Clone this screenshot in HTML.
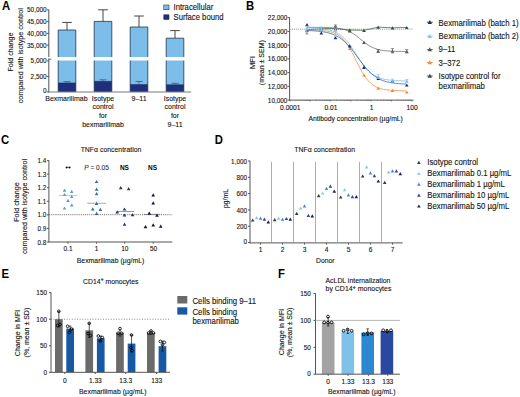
<!DOCTYPE html><html><head><meta charset="utf-8"><style>html,body{margin:0;padding:0;background:#fff;}svg{display:block;}</style></head><body>
<svg width="520" height="397" viewBox="0 0 520 397" font-family='"Liberation Sans", sans-serif'>
<rect width="520" height="397" fill="#fff"/>
<text transform="translate(2.0,10.0) scale(1,1.2)" font-size="11.3" text-anchor="start" font-weight="bold" fill="#000">A</text>
<text transform="translate(246.0,10.0) scale(1,1.2)" font-size="11.3" text-anchor="start" font-weight="bold" fill="#000">B</text>
<text transform="translate(1.0,143.9) scale(1,1.2)" font-size="11.3" text-anchor="start" font-weight="bold" fill="#000">C</text>
<text transform="translate(214.8,143.9) scale(1,1.2)" font-size="11.3" text-anchor="start" font-weight="bold" fill="#000">D</text>
<text transform="translate(1.6,278.2) scale(1,1.2)" font-size="11.3" text-anchor="start" font-weight="bold" fill="#000">E</text>
<text transform="translate(278.0,278.2) scale(1,1.2)" font-size="11.3" text-anchor="start" font-weight="bold" fill="#000">F</text>
<line x1="48.8" y1="9.8" x2="48.8" y2="57.0" stroke="#606060" stroke-width="1.1"/>
<line x1="48.8" y1="58.6" x2="48.8" y2="92.4" stroke="#606060" stroke-width="1.1"/>
<line x1="48.8" y1="59.2" x2="51.199999999999996" y2="59.2" stroke="#555" stroke-width="0.9"/>
<line x1="46.8" y1="9.8" x2="48.8" y2="9.8" stroke="#555" stroke-width="1.0"/>
<text transform="translate(46.6,12.4) scale(1,1.1)" font-size="6.4" text-anchor="end" fill="#111" stroke="#111" stroke-width="0.1">50,000</text>
<line x1="46.8" y1="21.6" x2="48.8" y2="21.6" stroke="#555" stroke-width="1.0"/>
<text transform="translate(46.6,24.200000000000003) scale(1,1.1)" font-size="6.4" text-anchor="end" fill="#111" stroke="#111" stroke-width="0.1">45,000</text>
<line x1="46.8" y1="33.400000000000006" x2="48.8" y2="33.400000000000006" stroke="#555" stroke-width="1.0"/>
<text transform="translate(46.6,36.00000000000001) scale(1,1.1)" font-size="6.4" text-anchor="end" fill="#111" stroke="#111" stroke-width="0.1">40,000</text>
<line x1="46.8" y1="45.2" x2="48.8" y2="45.2" stroke="#555" stroke-width="1.0"/>
<text transform="translate(46.6,47.800000000000004) scale(1,1.1)" font-size="6.4" text-anchor="end" fill="#111" stroke="#111" stroke-width="0.1">35,000</text>
<line x1="46.8" y1="60.900000000000006" x2="48.8" y2="60.900000000000006" stroke="#555" stroke-width="1.0"/>
<text transform="translate(46.6,63.00000000000001) scale(1,1.1)" font-size="6.4" text-anchor="end" fill="#111" stroke="#111" stroke-width="0.1">5,000</text>
<line x1="46.8" y1="76.4" x2="48.8" y2="76.4" stroke="#555" stroke-width="1.0"/>
<text transform="translate(46.6,78.5) scale(1,1.1)" font-size="6.4" text-anchor="end" fill="#111" stroke="#111" stroke-width="0.1">2,500</text>
<line x1="46.8" y1="91.9" x2="48.8" y2="91.9" stroke="#555" stroke-width="1.0"/>
<text transform="translate(46.6,93.2) scale(1,1.1)" font-size="6.4" text-anchor="end" fill="#111" stroke="#111" stroke-width="0.1">0</text>
<line x1="67" y1="22.4" x2="67" y2="30" stroke="#4d4343" stroke-width="1.0"/>
<line x1="62.2" y1="22.4" x2="71.8" y2="22.4" stroke="#4d4343" stroke-width="1.0"/>
<rect x="58.2" y="30" width="17.6" height="27.0" fill="#7cbde9"/>
<rect x="58.2" y="60.5" width="17.6" height="31.400000000000006" fill="#7cbde9"/>
<rect x="58.2" y="83.0" width="17.6" height="8.900000000000006" fill="#202f7c"/>
<path d="M58.2,57 V30 H75.80000000000001 V57 M58.2,60.5 V91.9 M75.80000000000001,60.5 V91.9" fill="none" stroke="#1f3450" stroke-width="0.8"/>
<line x1="58.2" y1="83.0" x2="75.80000000000001" y2="83.0" stroke="#1a2a5a" stroke-width="0.6"/>
<line x1="63.5" y1="81.6" x2="70.5" y2="81.6" stroke="#445" stroke-width="0.7"/>
<line x1="67" y1="81.6" x2="67" y2="83.0" stroke="#445" stroke-width="0.6"/>
<line x1="103" y1="9.8" x2="103" y2="21.4" stroke="#4d4343" stroke-width="1.0"/>
<line x1="98.2" y1="9.8" x2="107.8" y2="9.8" stroke="#4d4343" stroke-width="1.0"/>
<rect x="94.2" y="21.4" width="17.6" height="35.6" fill="#7cbde9"/>
<rect x="94.2" y="60.5" width="17.6" height="31.400000000000006" fill="#7cbde9"/>
<rect x="94.2" y="81.4" width="17.6" height="10.5" fill="#202f7c"/>
<path d="M94.2,57 V21.4 H111.80000000000001 V57 M94.2,60.5 V91.9 M111.80000000000001,60.5 V91.9" fill="none" stroke="#1f3450" stroke-width="0.8"/>
<line x1="94.2" y1="81.4" x2="111.80000000000001" y2="81.4" stroke="#1a2a5a" stroke-width="0.6"/>
<line x1="99.5" y1="79.8" x2="106.5" y2="79.8" stroke="#445" stroke-width="0.7"/>
<line x1="103" y1="79.8" x2="103" y2="81.4" stroke="#445" stroke-width="0.6"/>
<line x1="139" y1="16" x2="139" y2="27" stroke="#4d4343" stroke-width="1.0"/>
<line x1="134.2" y1="16" x2="143.8" y2="16" stroke="#4d4343" stroke-width="1.0"/>
<rect x="130.2" y="27" width="17.6" height="30.0" fill="#7cbde9"/>
<rect x="130.2" y="60.5" width="17.6" height="31.400000000000006" fill="#7cbde9"/>
<rect x="130.2" y="84.6" width="17.6" height="7.300000000000011" fill="#202f7c"/>
<path d="M130.2,57 V27 H147.79999999999998 V57 M130.2,60.5 V91.9 M147.79999999999998,60.5 V91.9" fill="none" stroke="#1f3450" stroke-width="0.8"/>
<line x1="130.2" y1="84.6" x2="147.79999999999998" y2="84.6" stroke="#1a2a5a" stroke-width="0.6"/>
<line x1="135.5" y1="81.5" x2="142.5" y2="81.5" stroke="#445" stroke-width="0.7"/>
<line x1="139" y1="81.5" x2="139" y2="84.6" stroke="#445" stroke-width="0.6"/>
<line x1="175" y1="30.6" x2="175" y2="38.2" stroke="#4d4343" stroke-width="1.0"/>
<line x1="170.2" y1="30.6" x2="179.8" y2="30.6" stroke="#4d4343" stroke-width="1.0"/>
<rect x="166.2" y="38.2" width="17.6" height="18.799999999999997" fill="#7cbde9"/>
<rect x="166.2" y="60.5" width="17.6" height="31.400000000000006" fill="#7cbde9"/>
<rect x="166.2" y="84.8" width="17.6" height="7.1000000000000085" fill="#202f7c"/>
<path d="M166.2,57 V38.2 H183.79999999999998 V57 M166.2,60.5 V91.9 M183.79999999999998,60.5 V91.9" fill="none" stroke="#1f3450" stroke-width="0.8"/>
<line x1="166.2" y1="84.8" x2="183.79999999999998" y2="84.8" stroke="#1a2a5a" stroke-width="0.6"/>
<line x1="171.5" y1="83.3" x2="178.5" y2="83.3" stroke="#445" stroke-width="0.7"/>
<line x1="175" y1="83.3" x2="175" y2="84.8" stroke="#445" stroke-width="0.6"/>
<line x1="48.8" y1="92.0" x2="191.2" y2="92.0" stroke="#7a7a7a" stroke-width="1.2"/>
<text transform="translate(66.4,100.8) scale(1,1.1)" font-size="7.0" text-anchor="middle" fill="#111" stroke="#111" stroke-width="0.1">Bexmarilimab</text>
<text transform="translate(103,100.8) scale(1,1.1)" font-size="7.0" text-anchor="middle" fill="#111" stroke="#111" stroke-width="0.1">Isotype</text>
<text transform="translate(103,109.39999999999999) scale(1,1.1)" font-size="7.0" text-anchor="middle" fill="#111" stroke="#111" stroke-width="0.1">control</text>
<text transform="translate(103,118.0) scale(1,1.1)" font-size="7.0" text-anchor="middle" fill="#111" stroke="#111" stroke-width="0.1">for</text>
<text transform="translate(103,126.6) scale(1,1.1)" font-size="7.0" text-anchor="middle" fill="#111" stroke="#111" stroke-width="0.1">bexmarilimab</text>
<text transform="translate(139,100.8) scale(1,1.1)" font-size="7.0" text-anchor="middle" fill="#111" stroke="#111" stroke-width="0.1">9–11</text>
<text transform="translate(175,100.8) scale(1,1.1)" font-size="7.0" text-anchor="middle" fill="#111" stroke="#111" stroke-width="0.1">Isotype</text>
<text transform="translate(175,109.39999999999999) scale(1,1.1)" font-size="7.0" text-anchor="middle" fill="#111" stroke="#111" stroke-width="0.1">control</text>
<text transform="translate(175,118.0) scale(1,1.1)" font-size="7.0" text-anchor="middle" fill="#111" stroke="#111" stroke-width="0.1">for</text>
<text transform="translate(175,126.6) scale(1,1.1)" font-size="7.0" text-anchor="middle" fill="#111" stroke="#111" stroke-width="0.1">9–11</text>
<text transform="translate(13.0,52.0) scale(1,1.1) rotate(-90)" font-size="6.45" text-anchor="middle" fill="#111" stroke="#111" stroke-width="0.1">Fold change</text>
<text transform="translate(22.8,55.7) scale(1,1.1) rotate(-90)" font-size="6.55" text-anchor="middle" fill="#111" stroke="#111" stroke-width="0.1">compared with isotype control</text>
<rect x="163.8" y="5.0" width="5.2" height="4.7" fill="#7cbde9" stroke="#1f3450" stroke-width="0.6"/>
<rect x="163.8" y="14.8" width="5.2" height="4.7" fill="#202f7c" stroke="#1f3450" stroke-width="0.6"/>
<text transform="translate(173.5,9.9) scale(1,1.1)" font-size="7.7" text-anchor="start" fill="#111" stroke="#111" stroke-width="0.1">Intracellular</text>
<text transform="translate(173.5,20.0) scale(1,1.1)" font-size="7.7" text-anchor="start" fill="#111" stroke="#111" stroke-width="0.1">Surface bound</text>
<line x1="289.6" y1="17.3" x2="289.6" y2="100.6" stroke="#555" stroke-width="1.0"/>
<line x1="287.6" y1="100.1" x2="289.6" y2="100.1" stroke="#555" stroke-width="1.0"/>
<text transform="translate(287.4,102.69999999999999) scale(1,1.1)" font-size="6.4" text-anchor="end" fill="#111" stroke="#111" stroke-width="0.1">10,000</text>
<line x1="287.6" y1="86.36" x2="289.6" y2="86.36" stroke="#555" stroke-width="1.0"/>
<text transform="translate(287.4,88.96) scale(1,1.1)" font-size="6.4" text-anchor="end" fill="#111" stroke="#111" stroke-width="0.1">12,000</text>
<line x1="287.6" y1="72.61999999999999" x2="289.6" y2="72.61999999999999" stroke="#555" stroke-width="1.0"/>
<text transform="translate(287.4,75.21999999999998) scale(1,1.1)" font-size="6.4" text-anchor="end" fill="#111" stroke="#111" stroke-width="0.1">14,000</text>
<line x1="287.6" y1="58.879999999999995" x2="289.6" y2="58.879999999999995" stroke="#555" stroke-width="1.0"/>
<text transform="translate(287.4,61.48) scale(1,1.1)" font-size="6.4" text-anchor="end" fill="#111" stroke="#111" stroke-width="0.1">16,000</text>
<line x1="287.6" y1="45.13999999999999" x2="289.6" y2="45.13999999999999" stroke="#555" stroke-width="1.0"/>
<text transform="translate(287.4,47.739999999999995) scale(1,1.1)" font-size="6.4" text-anchor="end" fill="#111" stroke="#111" stroke-width="0.1">18,000</text>
<line x1="287.6" y1="31.39999999999999" x2="289.6" y2="31.39999999999999" stroke="#555" stroke-width="1.0"/>
<text transform="translate(287.4,33.99999999999999) scale(1,1.1)" font-size="6.4" text-anchor="end" fill="#111" stroke="#111" stroke-width="0.1">20,000</text>
<line x1="287.6" y1="17.659999999999997" x2="289.6" y2="17.659999999999997" stroke="#555" stroke-width="1.0"/>
<text transform="translate(287.4,20.259999999999998) scale(1,1.1)" font-size="6.4" text-anchor="end" fill="#111" stroke="#111" stroke-width="0.1">22,000</text>
<line x1="289.6" y1="100.1" x2="413.5" y2="100.1" stroke="#555" stroke-width="1.0"/>
<line x1="290.0" y1="100.1" x2="290.0" y2="101.69999999999999" stroke="#555" stroke-width="0.5"/>
<line x1="296.1109089119788" y1="100.1" x2="296.1109089119788" y2="101.0" stroke="#555" stroke-width="0.5"/>
<line x1="299.68556147080915" y1="100.1" x2="299.68556147080915" y2="101.0" stroke="#555" stroke-width="0.5"/>
<line x1="302.2218178239576" y1="100.1" x2="302.2218178239576" y2="101.0" stroke="#555" stroke-width="0.5"/>
<line x1="304.1890910880212" y1="100.1" x2="304.1890910880212" y2="101.0" stroke="#555" stroke-width="0.5"/>
<line x1="305.79647038278796" y1="100.1" x2="305.79647038278796" y2="101.0" stroke="#555" stroke-width="0.5"/>
<line x1="307.1554902122894" y1="100.1" x2="307.1554902122894" y2="101.0" stroke="#555" stroke-width="0.5"/>
<line x1="308.33272673593643" y1="100.1" x2="308.33272673593643" y2="101.0" stroke="#555" stroke-width="0.5"/>
<line x1="309.3711229416183" y1="100.1" x2="309.3711229416183" y2="101.0" stroke="#555" stroke-width="0.5"/>
<line x1="310.3" y1="100.1" x2="310.3" y2="101.69999999999999" stroke="#555" stroke-width="0.5"/>
<line x1="316.4109089119788" y1="100.1" x2="316.4109089119788" y2="101.0" stroke="#555" stroke-width="0.5"/>
<line x1="319.98556147080916" y1="100.1" x2="319.98556147080916" y2="101.0" stroke="#555" stroke-width="0.5"/>
<line x1="322.52181782395763" y1="100.1" x2="322.52181782395763" y2="101.0" stroke="#555" stroke-width="0.5"/>
<line x1="324.48909108802115" y1="100.1" x2="324.48909108802115" y2="101.0" stroke="#555" stroke-width="0.5"/>
<line x1="326.09647038278797" y1="100.1" x2="326.09647038278797" y2="101.0" stroke="#555" stroke-width="0.5"/>
<line x1="327.4554902122894" y1="100.1" x2="327.4554902122894" y2="101.0" stroke="#555" stroke-width="0.5"/>
<line x1="328.63272673593644" y1="100.1" x2="328.63272673593644" y2="101.0" stroke="#555" stroke-width="0.5"/>
<line x1="329.6711229416183" y1="100.1" x2="329.6711229416183" y2="101.0" stroke="#555" stroke-width="0.5"/>
<line x1="330.6" y1="100.1" x2="330.6" y2="101.69999999999999" stroke="#555" stroke-width="0.5"/>
<line x1="336.71090891197883" y1="100.1" x2="336.71090891197883" y2="101.0" stroke="#555" stroke-width="0.5"/>
<line x1="340.28556147080917" y1="100.1" x2="340.28556147080917" y2="101.0" stroke="#555" stroke-width="0.5"/>
<line x1="342.82181782395764" y1="100.1" x2="342.82181782395764" y2="101.0" stroke="#555" stroke-width="0.5"/>
<line x1="344.78909108802117" y1="100.1" x2="344.78909108802117" y2="101.0" stroke="#555" stroke-width="0.5"/>
<line x1="346.396470382788" y1="100.1" x2="346.396470382788" y2="101.0" stroke="#555" stroke-width="0.5"/>
<line x1="347.75549021228943" y1="100.1" x2="347.75549021228943" y2="101.0" stroke="#555" stroke-width="0.5"/>
<line x1="348.93272673593646" y1="100.1" x2="348.93272673593646" y2="101.0" stroke="#555" stroke-width="0.5"/>
<line x1="349.9711229416183" y1="100.1" x2="349.9711229416183" y2="101.0" stroke="#555" stroke-width="0.5"/>
<line x1="350.9" y1="100.1" x2="350.9" y2="101.69999999999999" stroke="#555" stroke-width="0.5"/>
<line x1="357.01090891197885" y1="100.1" x2="357.01090891197885" y2="101.0" stroke="#555" stroke-width="0.5"/>
<line x1="360.5855614708091" y1="100.1" x2="360.5855614708091" y2="101.0" stroke="#555" stroke-width="0.5"/>
<line x1="363.12181782395766" y1="100.1" x2="363.12181782395766" y2="101.0" stroke="#555" stroke-width="0.5"/>
<line x1="365.0890910880212" y1="100.1" x2="365.0890910880212" y2="101.0" stroke="#555" stroke-width="0.5"/>
<line x1="366.696470382788" y1="100.1" x2="366.696470382788" y2="101.0" stroke="#555" stroke-width="0.5"/>
<line x1="368.05549021228944" y1="100.1" x2="368.05549021228944" y2="101.0" stroke="#555" stroke-width="0.5"/>
<line x1="369.23272673593647" y1="100.1" x2="369.23272673593647" y2="101.0" stroke="#555" stroke-width="0.5"/>
<line x1="370.2711229416183" y1="100.1" x2="370.2711229416183" y2="101.0" stroke="#555" stroke-width="0.5"/>
<line x1="371.2" y1="100.1" x2="371.2" y2="101.69999999999999" stroke="#555" stroke-width="0.5"/>
<line x1="377.3109089119788" y1="100.1" x2="377.3109089119788" y2="101.0" stroke="#555" stroke-width="0.5"/>
<line x1="380.88556147080914" y1="100.1" x2="380.88556147080914" y2="101.0" stroke="#555" stroke-width="0.5"/>
<line x1="383.42181782395767" y1="100.1" x2="383.42181782395767" y2="101.0" stroke="#555" stroke-width="0.5"/>
<line x1="385.3890910880212" y1="100.1" x2="385.3890910880212" y2="101.0" stroke="#555" stroke-width="0.5"/>
<line x1="386.99647038278795" y1="100.1" x2="386.99647038278795" y2="101.0" stroke="#555" stroke-width="0.5"/>
<line x1="388.3554902122894" y1="100.1" x2="388.3554902122894" y2="101.0" stroke="#555" stroke-width="0.5"/>
<line x1="389.5327267359365" y1="100.1" x2="389.5327267359365" y2="101.0" stroke="#555" stroke-width="0.5"/>
<line x1="390.5711229416183" y1="100.1" x2="390.5711229416183" y2="101.0" stroke="#555" stroke-width="0.5"/>
<line x1="391.5" y1="100.1" x2="391.5" y2="101.69999999999999" stroke="#555" stroke-width="0.5"/>
<line x1="397.6109089119788" y1="100.1" x2="397.6109089119788" y2="101.0" stroke="#555" stroke-width="0.5"/>
<line x1="401.18556147080915" y1="100.1" x2="401.18556147080915" y2="101.0" stroke="#555" stroke-width="0.5"/>
<line x1="403.7218178239576" y1="100.1" x2="403.7218178239576" y2="101.0" stroke="#555" stroke-width="0.5"/>
<line x1="405.6890910880212" y1="100.1" x2="405.6890910880212" y2="101.0" stroke="#555" stroke-width="0.5"/>
<line x1="407.29647038278796" y1="100.1" x2="407.29647038278796" y2="101.0" stroke="#555" stroke-width="0.5"/>
<line x1="408.6554902122894" y1="100.1" x2="408.6554902122894" y2="101.0" stroke="#555" stroke-width="0.5"/>
<line x1="409.8327267359365" y1="100.1" x2="409.8327267359365" y2="101.0" stroke="#555" stroke-width="0.5"/>
<line x1="410.8711229416183" y1="100.1" x2="410.8711229416183" y2="101.0" stroke="#555" stroke-width="0.5"/>
<line x1="411.8" y1="100.1" x2="411.8" y2="101.69999999999999" stroke="#555" stroke-width="0.5"/>
<text transform="translate(290.3,109.5) scale(1,1.1)" font-size="6.7" text-anchor="middle" fill="#111" stroke="#111" stroke-width="0.1">0.0001</text>
<text transform="translate(330.90000000000003,109.5) scale(1,1.1)" font-size="6.7" text-anchor="middle" fill="#111" stroke="#111" stroke-width="0.1">0.01</text>
<text transform="translate(371.5,109.5) scale(1,1.1)" font-size="6.7" text-anchor="middle" fill="#111" stroke="#111" stroke-width="0.1">1</text>
<text transform="translate(412.1,109.5) scale(1,1.1)" font-size="6.7" text-anchor="middle" fill="#111" stroke="#111" stroke-width="0.1">100</text>
<text transform="translate(308.5,120.7) scale(1,1.1)" font-size="6.8" text-anchor="start" fill="#111" stroke="#111" stroke-width="0.1">Antibody concentration (µg/mL)</text>
<text transform="translate(255.2,62.6) scale(1,1.1) rotate(-90)" font-size="6.91" text-anchor="middle" fill="#111" stroke="#111" stroke-width="0.1">MFI</text>
<text transform="translate(264.0,62.7) scale(1,1.1) rotate(-90)" font-size="6.36" text-anchor="middle" fill="#111" stroke="#111" stroke-width="0.1">(mean ± SEM)</text>
<line x1="289.6" y1="29.2" x2="413.5" y2="29.2" stroke="#7a8a7a" stroke-width="0.8" stroke-dasharray="1.2,0.9"/>
<path d="M307,30 L321.3,28.5 L335.5,28.5 L349.7,30 L364,30.3 L378.2,27.2 L392.5,27.8 L406.8,27.5" fill="none" stroke="#3a6645" stroke-width="0.75"/>
<polygon points="305.20,31.62 308.80,31.62 307.00,28.38" fill="#2a4f34"/>
<polygon points="319.50,30.12 323.10,30.12 321.30,26.88" fill="#2a4f34"/>
<polygon points="333.70,30.12 337.30,30.12 335.50,26.88" fill="#2a4f34"/>
<polygon points="347.90,31.62 351.50,31.62 349.70,28.38" fill="#2a4f34"/>
<polygon points="362.20,31.92 365.80,31.92 364.00,28.68" fill="#2a4f34"/>
<polygon points="376.40,28.82 380.00,28.82 378.20,25.58" fill="#2a4f34"/>
<polygon points="390.70,29.42 394.30,29.42 392.50,26.18" fill="#2a4f34"/>
<polygon points="405.00,29.12 408.60,29.12 406.80,25.88" fill="#2a4f34"/>
<path d="M307.00,27.32 L308.50,27.32 L310.00,27.32 L311.50,27.33 L313.00,27.33 L314.50,27.34 L316.00,27.35 L317.50,27.36 L319.00,27.38 L320.50,27.40 L322.00,27.42 L323.50,27.45 L325.00,27.48 L326.50,27.52 L328.00,27.57 L329.50,27.63 L331.00,27.70 L332.50,27.79 L334.00,27.90 L335.50,28.03 L337.00,28.20 L338.50,28.39 L340.00,28.63 L341.50,28.91 L343.00,29.25 L344.50,29.65 L346.00,30.12 L347.50,30.67 L349.00,31.31 L350.50,32.05 L352.00,32.89 L353.50,33.82 L355.00,34.84 L356.50,35.95 L358.00,37.12 L359.50,38.34 L361.00,39.58 L362.50,40.82 L364.00,42.03 L365.50,43.19 L367.00,44.27 L368.50,45.27 L370.00,46.18 L371.50,46.98 L373.00,47.70 L374.50,48.31 L376.00,48.84 L377.50,49.30 L379.00,49.68 L380.50,50.00 L382.00,50.27 L383.50,50.50 L385.00,50.68 L386.50,50.83 L388.00,50.96 L389.50,51.06 L391.00,51.15 L392.50,51.22 L394.00,51.28 L395.50,51.32 L397.00,51.36 L398.50,51.39 L400.00,51.42 L401.50,51.44 L403.00,51.46 L404.50,51.47 L406.00,51.48" fill="none" stroke="#6b6b6b" stroke-width="0.75"/>
<polygon points="305.20,31.62 308.80,31.62 307.00,28.38" fill="#505050"/>
<polygon points="319.50,30.62 323.10,30.62 321.30,27.38" fill="#505050"/>
<polygon points="333.70,27.62 337.30,27.62 335.50,24.38" fill="#505050"/>
<polygon points="347.90,32.42 351.50,32.42 349.70,29.18" fill="#505050"/>
<polygon points="362.20,43.92 365.80,43.92 364.00,40.68" fill="#505050"/>
<polygon points="376.40,52.62 380.00,52.62 378.20,49.38" fill="#505050"/>
<polygon points="390.70,52.62 394.30,52.62 392.50,49.38" fill="#505050"/>
<polygon points="405.00,53.12 408.60,53.12 406.80,49.88" fill="#505050"/>
<path d="M307.00,29.86 L308.50,29.88 L310.00,29.90 L311.50,29.94 L313.00,29.97 L314.50,30.02 L316.00,30.08 L317.50,30.14 L319.00,30.23 L320.50,30.33 L322.00,30.45 L323.50,30.60 L325.00,30.78 L326.50,31.00 L328.00,31.26 L329.50,31.58 L331.00,31.97 L332.50,32.43 L334.00,32.98 L335.50,33.63 L337.00,34.42 L338.50,35.34 L340.00,36.42 L341.50,37.69 L343.00,39.15 L344.50,40.83 L346.00,42.73 L347.50,44.87 L349.00,47.22 L350.50,49.78 L352.00,52.53 L353.50,55.41 L355.00,58.39 L356.50,61.40 L358.00,64.39 L359.50,67.31 L361.00,70.10 L362.50,72.72 L364.00,75.14 L365.50,77.33 L367.00,79.30 L368.50,81.05 L370.00,82.57 L371.50,83.89 L373.00,85.03 L374.50,86.00 L376.00,86.82 L377.50,87.51 L379.00,88.09 L380.50,88.58 L382.00,88.98 L383.50,89.32 L385.00,89.60 L386.50,89.83 L388.00,90.02 L389.50,90.18 L391.00,90.31 L392.50,90.41 L394.00,90.50 L395.50,90.57 L397.00,90.63 L398.50,90.68 L400.00,90.72 L401.50,90.76 L403.00,90.78 L404.50,90.81 L406.00,90.83" fill="none" stroke="#f0893a" stroke-width="0.75"/>
<polygon points="305.20,34.62 308.80,34.62 307.00,31.38" fill="#f0893a"/>
<polygon points="319.50,31.62 323.10,31.62 321.30,28.38" fill="#f0893a"/>
<polygon points="333.70,31.62 337.30,31.62 335.50,28.38" fill="#f0893a"/>
<polygon points="347.90,50.12 351.50,50.12 349.70,46.88" fill="#f0893a"/>
<polygon points="362.20,76.62 365.80,76.62 364.00,73.38" fill="#f0893a"/>
<polygon points="376.40,89.82 380.00,89.82 378.20,86.58" fill="#f0893a"/>
<polygon points="390.70,91.92 394.30,91.92 392.50,88.68" fill="#f0893a"/>
<polygon points="405.00,93.62 408.60,93.62 406.80,90.38" fill="#f0893a"/>
<path d="M307.00,28.10 L308.50,28.13 L310.00,28.17 L311.50,28.21 L313.00,28.26 L314.50,28.32 L316.00,28.40 L317.50,28.48 L319.00,28.59 L320.50,28.71 L322.00,28.86 L323.50,29.03 L325.00,29.23 L326.50,29.48 L328.00,29.77 L329.50,30.10 L331.00,30.50 L332.50,30.97 L334.00,31.52 L335.50,32.15 L337.00,32.89 L338.50,33.75 L340.00,34.73 L341.50,35.85 L343.00,37.11 L344.50,38.53 L346.00,40.11 L347.50,41.85 L349.00,43.74 L350.50,45.77 L352.00,47.93 L353.50,50.17 L355.00,52.49 L356.50,54.83 L358.00,57.17 L359.50,59.47 L361.00,61.70 L362.50,63.82 L364.00,65.81 L365.50,67.66 L367.00,69.36 L368.50,70.89 L370.00,72.27 L371.50,73.49 L373.00,74.57 L374.50,75.51 L376.00,76.33 L377.50,77.04 L379.00,77.65 L380.50,78.18 L382.00,78.63 L383.50,79.01 L385.00,79.33 L386.50,79.60 L388.00,79.84 L389.50,80.03 L391.00,80.20 L392.50,80.34 L394.00,80.45 L395.50,80.55 L397.00,80.64 L398.50,80.71 L400.00,80.77 L401.50,80.81 L403.00,80.86 L404.50,80.89 L406.00,80.92" fill="none" stroke="#78bdf0" stroke-width="0.75"/>
<polygon points="305.20,30.12 308.80,30.12 307.00,26.88" fill="#78bdf0"/>
<polygon points="319.50,31.12 323.10,31.12 321.30,27.88" fill="#78bdf0"/>
<polygon points="333.70,31.62 337.30,31.62 335.50,28.38" fill="#78bdf0"/>
<polygon points="347.90,47.12 351.50,47.12 349.70,43.88" fill="#78bdf0"/>
<polygon points="362.20,67.62 365.80,67.62 364.00,64.38" fill="#78bdf0"/>
<polygon points="376.40,78.22 380.00,78.22 378.20,74.98" fill="#78bdf0"/>
<polygon points="390.70,82.42 394.30,82.42 392.50,79.18" fill="#78bdf0"/>
<polygon points="405.00,82.82 408.60,82.82 406.80,79.58" fill="#78bdf0"/>
<path d="M307.00,30.53 L308.50,30.58 L310.00,30.64 L311.50,30.71 L313.00,30.80 L314.50,30.89 L316.00,31.00 L317.50,31.13 L319.00,31.27 L320.50,31.45 L322.00,31.64 L323.50,31.87 L325.00,32.13 L326.50,32.43 L328.00,32.78 L329.50,33.18 L331.00,33.63 L332.50,34.15 L334.00,34.75 L335.50,35.42 L337.00,36.18 L338.50,37.03 L340.00,37.99 L341.50,39.05 L343.00,40.23 L344.50,41.53 L346.00,42.95 L347.50,44.49 L349.00,46.14 L350.50,47.90 L352.00,49.75 L353.50,51.69 L355.00,53.68 L356.50,55.72 L358.00,57.77 L359.50,59.82 L361.00,61.85 L362.50,63.82 L364.00,65.72 L365.50,67.53 L367.00,69.25 L368.50,70.85 L370.00,72.34 L371.50,73.71 L373.00,74.95 L374.50,76.09 L376.00,77.10 L377.50,78.02 L379.00,78.83 L380.50,79.55 L382.00,80.19 L383.50,80.75 L385.00,81.24 L386.50,81.67 L388.00,82.04 L389.50,82.37 L391.00,82.65 L392.50,82.90 L394.00,83.12 L395.50,83.30 L397.00,83.46 L398.50,83.60 L400.00,83.72 L401.50,83.82 L403.00,83.91 L404.50,83.99 L406.00,84.05" fill="none" stroke="#2f5fa5" stroke-width="0.75"/>
<polygon points="305.20,26.22 308.80,26.22 307.00,22.98" fill="#1c2c70"/>
<polygon points="319.50,34.62 323.10,34.62 321.30,31.38" fill="#1c2c70"/>
<polygon points="333.70,39.32 337.30,39.32 335.50,36.08" fill="#1c2c70"/>
<polygon points="347.90,47.62 351.50,47.62 349.70,44.38" fill="#1c2c70"/>
<polygon points="362.20,69.02 365.80,69.02 364.00,65.78" fill="#1c2c70"/>
<polygon points="376.40,80.12 380.00,80.12 378.20,76.88" fill="#1c2c70"/>
<polygon points="390.70,83.12 394.30,83.12 392.50,79.88" fill="#1c2c70"/>
<polygon points="405.00,86.62 408.60,86.62 406.80,83.38" fill="#1c2c70"/>
<line x1="306.6" y1="26.3" x2="306.6" y2="32.6" stroke="#8cc8f0" stroke-width="0.8"/>
<line x1="305.0" y1="26.3" x2="308.20000000000005" y2="26.3" stroke="#8cc8f0" stroke-width="0.7"/>
<line x1="305.0" y1="32.6" x2="308.20000000000005" y2="32.6" stroke="#8cc8f0" stroke-width="0.7"/>
<line x1="335.5" y1="28.5" x2="335.5" y2="36.5" stroke="#8cc8f0" stroke-width="0.8"/>
<line x1="333.9" y1="28.5" x2="337.1" y2="28.5" stroke="#8cc8f0" stroke-width="0.7"/>
<line x1="333.9" y1="36.5" x2="337.1" y2="36.5" stroke="#8cc8f0" stroke-width="0.7"/>
<line x1="335.5" y1="25.0" x2="335.5" y2="28.5" stroke="#777" stroke-width="0.8"/>
<line x1="333.9" y1="25.0" x2="337.1" y2="25.0" stroke="#777" stroke-width="0.7"/>
<line x1="333.9" y1="28.5" x2="337.1" y2="28.5" stroke="#777" stroke-width="0.7"/>
<line x1="378.2" y1="74.5" x2="378.2" y2="78.5" stroke="#9cc8ee" stroke-width="0.8"/>
<line x1="376.59999999999997" y1="74.5" x2="379.8" y2="74.5" stroke="#9cc8ee" stroke-width="0.7"/>
<line x1="376.59999999999997" y1="78.5" x2="379.8" y2="78.5" stroke="#9cc8ee" stroke-width="0.7"/>
<line x1="392.5" y1="48.6" x2="392.5" y2="53.0" stroke="#666" stroke-width="0.8"/>
<line x1="390.9" y1="48.6" x2="394.1" y2="48.6" stroke="#666" stroke-width="0.7"/>
<line x1="390.9" y1="53.0" x2="394.1" y2="53.0" stroke="#666" stroke-width="0.7"/>
<line x1="378.2" y1="49.5" x2="378.2" y2="52.5" stroke="#666" stroke-width="0.8"/>
<line x1="376.59999999999997" y1="49.5" x2="379.8" y2="49.5" stroke="#666" stroke-width="0.7"/>
<line x1="376.59999999999997" y1="52.5" x2="379.8" y2="52.5" stroke="#666" stroke-width="0.7"/>
<line x1="406.8" y1="49.5" x2="406.8" y2="53" stroke="#666" stroke-width="0.8"/>
<line x1="405.2" y1="49.5" x2="408.40000000000003" y2="49.5" stroke="#666" stroke-width="0.7"/>
<line x1="405.2" y1="53" x2="408.40000000000003" y2="53" stroke="#666" stroke-width="0.7"/>
<line x1="392.5" y1="79.0" x2="392.5" y2="82.5" stroke="#8cc8f0" stroke-width="0.8"/>
<line x1="390.9" y1="79.0" x2="394.1" y2="79.0" stroke="#8cc8f0" stroke-width="0.7"/>
<line x1="390.9" y1="82.5" x2="394.1" y2="82.5" stroke="#8cc8f0" stroke-width="0.7"/>
<line x1="406.8" y1="79.5" x2="406.8" y2="82.5" stroke="#8cc8f0" stroke-width="0.8"/>
<line x1="405.2" y1="79.5" x2="408.40000000000003" y2="79.5" stroke="#8cc8f0" stroke-width="0.7"/>
<line x1="405.2" y1="82.5" x2="408.40000000000003" y2="82.5" stroke="#8cc8f0" stroke-width="0.7"/>
<line x1="321.3" y1="27.0" x2="321.3" y2="31.0" stroke="#8cc8f0" stroke-width="0.8"/>
<line x1="319.7" y1="27.0" x2="322.90000000000003" y2="27.0" stroke="#8cc8f0" stroke-width="0.7"/>
<line x1="319.7" y1="31.0" x2="322.90000000000003" y2="31.0" stroke="#8cc8f0" stroke-width="0.7"/>
<line x1="426.9" y1="22.2" x2="432.8" y2="22.2" stroke="#1c2c70" stroke-width="0.8"/>
<polygon points="427.60,23.88 432.00,23.88 429.80,19.92" fill="#1c2c70"/>
<text transform="translate(438.6,25.9) scale(1,1.1)" font-size="7.8" text-anchor="start" fill="#111" stroke="#111" stroke-width="0.1">Bexmarilimab (batch 1)</text>
<line x1="426.9" y1="36.3" x2="432.8" y2="36.3" stroke="#86c4ee" stroke-width="0.8"/>
<polygon points="427.60,37.98 432.00,37.98 429.80,34.02" fill="#86c4ee"/>
<text transform="translate(438.6,39.1) scale(1,1.1)" font-size="7.8" text-anchor="start" fill="#111" stroke="#111" stroke-width="0.1">Bexmarilimab (batch 2)</text>
<line x1="426.9" y1="49.599999999999994" x2="432.8" y2="49.599999999999994" stroke="#4f4f4f" stroke-width="0.8"/>
<polygon points="427.60,51.28 432.00,51.28 429.80,47.32" fill="#4f4f4f"/>
<text transform="translate(438.6,52.3) scale(1,1.1)" font-size="7.8" text-anchor="start" fill="#111" stroke="#111" stroke-width="0.1">9–11</text>
<line x1="426.9" y1="62.5" x2="432.8" y2="62.5" stroke="#f08a3a" stroke-width="0.8"/>
<polygon points="427.60,64.18 432.00,64.18 429.80,60.22" fill="#f08a3a"/>
<text transform="translate(438.6,66.0) scale(1,1.1)" font-size="7.8" text-anchor="start" fill="#111" stroke="#111" stroke-width="0.1">3–372</text>
<line x1="426.9" y1="76.0" x2="432.8" y2="76.0" stroke="#27553a" stroke-width="0.8"/>
<polygon points="427.60,77.68 432.00,77.68 429.80,73.72" fill="#27553a"/>
<text transform="translate(438.6,79.0) scale(1,1.1)" font-size="7.8" text-anchor="start" fill="#111" stroke="#111" stroke-width="0.1">Isotype control for</text>
<text transform="translate(438.6,89.4) scale(1,1.1)" font-size="7.8" text-anchor="start" fill="#111" stroke="#111" stroke-width="0.1">bexmarilimab</text>
<line x1="48.9" y1="160.3" x2="48.9" y2="242.5" stroke="#555" stroke-width="1.0"/>
<line x1="46.9" y1="242.0" x2="48.9" y2="242.0" stroke="#555" stroke-width="1.0"/>
<text transform="translate(46.2,244.5) scale(1,1.1)" font-size="6.3" text-anchor="end" fill="#111" stroke="#111" stroke-width="0.1">0.8</text>
<line x1="46.9" y1="228.43" x2="48.9" y2="228.43" stroke="#555" stroke-width="1.0"/>
<text transform="translate(46.2,230.93) scale(1,1.1)" font-size="6.3" text-anchor="end" fill="#111" stroke="#111" stroke-width="0.1">0.9</text>
<line x1="46.9" y1="214.86" x2="48.9" y2="214.86" stroke="#555" stroke-width="1.0"/>
<text transform="translate(46.2,217.36) scale(1,1.1)" font-size="6.3" text-anchor="end" fill="#111" stroke="#111" stroke-width="0.1">1.0</text>
<line x1="46.9" y1="201.29" x2="48.9" y2="201.29" stroke="#555" stroke-width="1.0"/>
<text transform="translate(46.2,203.79) scale(1,1.1)" font-size="6.3" text-anchor="end" fill="#111" stroke="#111" stroke-width="0.1">1.1</text>
<line x1="46.9" y1="187.71999999999997" x2="48.9" y2="187.71999999999997" stroke="#555" stroke-width="1.0"/>
<text transform="translate(46.2,190.21999999999997) scale(1,1.1)" font-size="6.3" text-anchor="end" fill="#111" stroke="#111" stroke-width="0.1">1.2</text>
<line x1="46.9" y1="174.15" x2="48.9" y2="174.15" stroke="#555" stroke-width="1.0"/>
<text transform="translate(46.2,176.65) scale(1,1.1)" font-size="6.3" text-anchor="end" fill="#111" stroke="#111" stroke-width="0.1">1.3</text>
<line x1="46.9" y1="160.57999999999998" x2="48.9" y2="160.57999999999998" stroke="#555" stroke-width="1.0"/>
<text transform="translate(46.2,163.07999999999998) scale(1,1.1)" font-size="6.3" text-anchor="end" fill="#111" stroke="#111" stroke-width="0.1">1.4</text>
<line x1="48.9" y1="242.0" x2="172.3" y2="242.0" stroke="#555" stroke-width="1.0"/>
<line x1="68" y1="242.0" x2="68" y2="243.7" stroke="#555" stroke-width="1.0"/>
<line x1="96.6" y1="242.0" x2="96.6" y2="243.7" stroke="#555" stroke-width="1.0"/>
<line x1="124.6" y1="242.0" x2="124.6" y2="243.7" stroke="#555" stroke-width="1.0"/>
<line x1="153.2" y1="242.0" x2="153.2" y2="243.7" stroke="#555" stroke-width="1.0"/>
<line x1="48.9" y1="214.7" x2="172.6" y2="214.7" stroke="#333" stroke-width="0.7" stroke-dasharray="1,0.9"/>
<line x1="58.8" y1="195.5" x2="77.1" y2="195.5" stroke="#96bfe2" stroke-width="0.7"/>
<polygon points="62.70,191.72 66.30,191.72 64.50,188.48" fill="#5a9dcf"/>
<polygon points="69.90,193.02 73.50,193.02 71.70,189.78" fill="#5a9dcf"/>
<polygon points="62.70,196.12 66.30,196.12 64.50,192.88" fill="#5a9dcf"/>
<polygon points="69.90,198.02 73.50,198.02 71.70,194.78" fill="#5a9dcf"/>
<polygon points="66.20,202.02 69.80,202.02 68.00,198.78" fill="#5a9dcf"/>
<polygon points="69.90,206.42 73.50,206.42 71.70,203.18" fill="#5a9dcf"/>
<polygon points="62.70,209.62 66.30,209.62 64.50,206.38" fill="#5a9dcf"/>
<line x1="87.2" y1="203.3" x2="106" y2="203.3" stroke="#5f90c8" stroke-width="0.7"/>
<polygon points="94.80,183.12 98.40,183.12 96.60,179.88" fill="#3568a6"/>
<polygon points="94.80,190.72 98.40,190.72 96.60,187.48" fill="#3568a6"/>
<polygon points="94.80,195.22 98.40,195.22 96.60,191.98" fill="#3568a6"/>
<polygon points="94.80,204.92 98.40,204.92 96.60,201.68" fill="#3568a6"/>
<polygon points="91.00,210.42 94.60,210.42 92.80,207.18" fill="#3568a6"/>
<polygon points="98.60,210.92 102.20,210.92 100.40,207.68" fill="#3568a6"/>
<polygon points="94.80,215.02 98.40,215.02 96.60,211.78" fill="#3568a6"/>
<line x1="117.6" y1="211.5" x2="134" y2="211.5" stroke="#5866bc" stroke-width="0.7"/>
<polygon points="118.90,189.22 122.50,189.22 120.70,185.98" fill="#26307e"/>
<polygon points="126.80,190.22 130.40,190.22 128.60,186.98" fill="#26307e"/>
<polygon points="122.70,210.62 126.30,210.62 124.50,207.38" fill="#26307e"/>
<polygon points="115.40,213.42 119.00,213.42 117.20,210.18" fill="#26307e"/>
<polygon points="122.70,216.62 126.30,216.62 124.50,213.38" fill="#26307e"/>
<polygon points="130.70,216.32 134.30,216.32 132.50,213.08" fill="#26307e"/>
<polygon points="122.70,225.82 126.30,225.82 124.50,222.58" fill="#26307e"/>
<line x1="144" y1="214.4" x2="160" y2="214.4" stroke="#6a6a80" stroke-width="0.7"/>
<polygon points="151.40,196.52 155.00,196.52 153.20,193.28" fill="#0f1436"/>
<polygon points="151.40,204.42 155.00,204.42 153.20,201.18" fill="#0f1436"/>
<polygon points="147.50,214.72 151.10,214.72 149.30,211.48" fill="#0f1436"/>
<polygon points="155.20,216.72 158.80,216.72 157.00,213.48" fill="#0f1436"/>
<polygon points="143.70,228.22 147.30,228.22 145.50,224.98" fill="#0f1436"/>
<polygon points="151.40,226.52 155.00,226.52 153.20,223.28" fill="#0f1436"/>
<polygon points="158.90,227.82 162.50,227.82 160.70,224.58" fill="#0f1436"/>
<text transform="translate(111,152) scale(1,1.1)" font-size="6.9" text-anchor="middle" fill="#111" stroke="#111" stroke-width="0.1">TNFα concentration</text>
<line x1="66.6" y1="167.4" x2="69.6" y2="167.4" stroke="#444" stroke-width="0.7"/>
<circle cx="66.6" cy="167.4" r="1.0" fill="#111"/><circle cx="69.6" cy="167.4" r="1.0" fill="#111"/>
<text transform="translate(84.2,170.3) scale(1,1.1)" font-size="6.6" text-anchor="start" fill="#333" stroke="#333" stroke-width="0.1"><tspan font-style="italic">P</tspan> = 0.05</text>
<text transform="translate(124.4,170.4) scale(1,1.1)" font-size="6.5" text-anchor="middle" font-weight="bold" fill="#000">NS</text>
<text transform="translate(152.6,170.4) scale(1,1.1)" font-size="6.5" text-anchor="middle" font-weight="bold" fill="#000">NS</text>
<text transform="translate(68,250.6) scale(1,1.1)" font-size="6.5" text-anchor="middle" fill="#111" stroke="#111" stroke-width="0.1">0.1</text>
<text transform="translate(96.6,250.6) scale(1,1.1)" font-size="6.5" text-anchor="middle" fill="#111" stroke="#111" stroke-width="0.1">1</text>
<text transform="translate(124.8,250.6) scale(1,1.1)" font-size="6.5" text-anchor="middle" fill="#111" stroke="#111" stroke-width="0.1">10</text>
<text transform="translate(153.6,250.6) scale(1,1.1)" font-size="6.5" text-anchor="middle" fill="#111" stroke="#111" stroke-width="0.1">50</text>
<text transform="translate(110.5,263.4) scale(1,1.1)" font-size="6.9" text-anchor="middle" fill="#111" stroke="#111" stroke-width="0.1">Bexmarilimab (µg/mL)</text>
<text transform="translate(19.0,202.0) scale(1,1.1) rotate(-90)" font-size="6.55" text-anchor="middle" fill="#111" stroke="#111" stroke-width="0.1">Fold change</text>
<text transform="translate(27.4,206.5) scale(1,1.1) rotate(-90)" font-size="6.55" text-anchor="middle" fill="#111" stroke="#111" stroke-width="0.1">compared with isotype control</text>
<line x1="250.0" y1="160.8" x2="250.0" y2="243.3" stroke="#555" stroke-width="1.0"/>
<line x1="248.0" y1="242.5" x2="250.0" y2="242.5" stroke="#555" stroke-width="1.0"/>
<text transform="translate(247.1,244.2) scale(1,1.1)" font-size="6.4" text-anchor="end" fill="#111" stroke="#111" stroke-width="0.1">0</text>
<line x1="248.0" y1="226.2" x2="250.0" y2="226.2" stroke="#555" stroke-width="1.0"/>
<text transform="translate(247.1,228.79999999999998) scale(1,1.1)" font-size="6.4" text-anchor="end" fill="#111" stroke="#111" stroke-width="0.1">200</text>
<line x1="248.0" y1="209.9" x2="250.0" y2="209.9" stroke="#555" stroke-width="1.0"/>
<text transform="translate(247.1,212.5) scale(1,1.1)" font-size="6.4" text-anchor="end" fill="#111" stroke="#111" stroke-width="0.1">400</text>
<line x1="248.0" y1="193.6" x2="250.0" y2="193.6" stroke="#555" stroke-width="1.0"/>
<text transform="translate(247.1,196.2) scale(1,1.1)" font-size="6.4" text-anchor="end" fill="#111" stroke="#111" stroke-width="0.1">600</text>
<line x1="248.0" y1="177.3" x2="250.0" y2="177.3" stroke="#555" stroke-width="1.0"/>
<text transform="translate(247.1,179.9) scale(1,1.1)" font-size="6.4" text-anchor="end" fill="#111" stroke="#111" stroke-width="0.1">800</text>
<line x1="248.0" y1="161.0" x2="250.0" y2="161.0" stroke="#555" stroke-width="1.0"/>
<text transform="translate(247.1,163.6) scale(1,1.1)" font-size="6.4" text-anchor="end" fill="#111" stroke="#111" stroke-width="0.1">1,000</text>
<line x1="250.0" y1="242.9" x2="402.6" y2="242.9" stroke="#555" stroke-width="1.0"/>
<line x1="271.5" y1="161.8" x2="271.5" y2="242.5" stroke="#888" stroke-width="0.7"/>
<line x1="293.5" y1="161.8" x2="293.5" y2="242.5" stroke="#888" stroke-width="0.7"/>
<line x1="315.5" y1="161.8" x2="315.5" y2="242.5" stroke="#888" stroke-width="0.7"/>
<line x1="337.5" y1="161.8" x2="337.5" y2="242.5" stroke="#888" stroke-width="0.7"/>
<line x1="359.5" y1="161.8" x2="359.5" y2="242.5" stroke="#888" stroke-width="0.7"/>
<line x1="381.5" y1="161.8" x2="381.5" y2="242.5" stroke="#888" stroke-width="0.7"/>
<line x1="260.5" y1="242.9" x2="260.5" y2="244.6" stroke="#555" stroke-width="1.0"/>
<text transform="translate(260.5,252.4) scale(1,1.1)" font-size="6.6" text-anchor="middle" fill="#111" stroke="#111" stroke-width="0.1">1</text>
<line x1="282.5" y1="242.9" x2="282.5" y2="244.6" stroke="#555" stroke-width="1.0"/>
<text transform="translate(282.5,252.4) scale(1,1.1)" font-size="6.6" text-anchor="middle" fill="#111" stroke="#111" stroke-width="0.1">2</text>
<line x1="304.5" y1="242.9" x2="304.5" y2="244.6" stroke="#555" stroke-width="1.0"/>
<text transform="translate(304.5,252.4) scale(1,1.1)" font-size="6.6" text-anchor="middle" fill="#111" stroke="#111" stroke-width="0.1">3</text>
<line x1="326.5" y1="242.9" x2="326.5" y2="244.6" stroke="#555" stroke-width="1.0"/>
<text transform="translate(326.5,252.4) scale(1,1.1)" font-size="6.6" text-anchor="middle" fill="#111" stroke="#111" stroke-width="0.1">4</text>
<line x1="348.5" y1="242.9" x2="348.5" y2="244.6" stroke="#555" stroke-width="1.0"/>
<text transform="translate(348.5,252.4) scale(1,1.1)" font-size="6.6" text-anchor="middle" fill="#111" stroke="#111" stroke-width="0.1">5</text>
<line x1="370.5" y1="242.9" x2="370.5" y2="244.6" stroke="#555" stroke-width="1.0"/>
<text transform="translate(370.5,252.4) scale(1,1.1)" font-size="6.6" text-anchor="middle" fill="#111" stroke="#111" stroke-width="0.1">6</text>
<line x1="392.5" y1="242.9" x2="392.5" y2="244.6" stroke="#555" stroke-width="1.0"/>
<text transform="translate(392.5,252.4) scale(1,1.1)" font-size="6.6" text-anchor="middle" fill="#111" stroke="#111" stroke-width="0.1">7</text>
<text transform="translate(325.3,263.0) scale(1,1.1)" font-size="6.8" text-anchor="middle" fill="#111" stroke="#111" stroke-width="0.1">Donor</text>
<text transform="translate(324.7,152) scale(1,1.1)" font-size="6.9" text-anchor="middle" fill="#111" stroke="#111" stroke-width="0.1">TNFα concentration</text>
<text transform="translate(227.6,198.6) scale(1,1.1) rotate(-90)" font-size="6.36" text-anchor="middle" fill="#111" stroke="#111" stroke-width="0.1">pg/mL</text>
<polygon points="250.90,221.62 254.50,221.62 252.70,218.38" fill="#25472d"/>
<polygon points="254.80,219.32 258.40,219.32 256.60,216.08" fill="#93c6e8"/>
<polygon points="258.70,219.82 262.30,219.82 260.50,216.58" fill="#4f88c0"/>
<polygon points="262.60,220.82 266.20,220.82 264.40,217.58" fill="#38449a"/>
<polygon points="266.50,223.42 270.10,223.42 268.30,220.18" fill="#1a205c"/>
<polygon points="272.90,221.32 276.50,221.32 274.70,218.08" fill="#25472d"/>
<polygon points="276.80,219.82 280.40,219.82 278.60,216.58" fill="#93c6e8"/>
<polygon points="280.70,220.82 284.30,220.82 282.50,217.58" fill="#4f88c0"/>
<polygon points="284.60,220.12 288.20,220.12 286.40,216.88" fill="#38449a"/>
<polygon points="288.50,220.82 292.10,220.82 290.30,217.58" fill="#1a205c"/>
<polygon points="294.90,215.02 298.50,215.02 296.70,211.78" fill="#25472d"/>
<polygon points="298.80,209.62 302.40,209.62 300.60,206.38" fill="#93c6e8"/>
<polygon points="302.70,207.42 306.30,207.42 304.50,204.18" fill="#4f88c0"/>
<polygon points="306.60,217.02 310.20,217.02 308.40,213.78" fill="#38449a"/>
<polygon points="310.50,217.42 314.10,217.42 312.30,214.18" fill="#1a205c"/>
<polygon points="316.90,197.22 320.50,197.22 318.70,193.98" fill="#25472d"/>
<polygon points="320.80,194.62 324.40,194.62 322.60,191.38" fill="#93c6e8"/>
<polygon points="324.70,189.92 328.30,189.92 326.50,186.68" fill="#4f88c0"/>
<polygon points="328.60,187.72 332.20,187.72 330.40,184.48" fill="#38449a"/>
<polygon points="332.50,192.82 336.10,192.82 334.30,189.58" fill="#1a205c"/>
<polygon points="338.90,198.62 342.50,198.62 340.70,195.38" fill="#25472d"/>
<polygon points="342.80,191.32 346.40,191.32 344.60,188.08" fill="#93c6e8"/>
<polygon points="346.70,196.52 350.30,196.52 348.50,193.28" fill="#4f88c0"/>
<polygon points="350.60,198.32 354.20,198.32 352.40,195.08" fill="#38449a"/>
<polygon points="354.50,198.32 358.10,198.32 356.30,195.08" fill="#1a205c"/>
<polygon points="360.90,177.62 364.50,177.62 362.70,174.38" fill="#25472d"/>
<polygon points="364.80,168.52 368.40,168.52 366.60,165.28" fill="#93c6e8"/>
<polygon points="368.70,174.52 372.30,174.52 370.50,171.28" fill="#4f88c0"/>
<polygon points="372.60,177.32 376.20,177.32 374.40,174.08" fill="#38449a"/>
<polygon points="376.50,182.62 380.10,182.62 378.30,179.38" fill="#1a205c"/>
<polygon points="382.90,184.02 386.50,184.02 384.70,180.78" fill="#25472d"/>
<polygon points="386.80,173.62 390.40,173.62 388.60,170.38" fill="#93c6e8"/>
<polygon points="390.70,172.52 394.30,172.52 392.50,169.28" fill="#4f88c0"/>
<polygon points="394.60,172.52 398.20,172.52 396.40,169.28" fill="#38449a"/>
<polygon points="398.50,175.22 402.10,175.22 400.30,171.98" fill="#1a205c"/>
<polygon points="417.10,164.02 420.70,164.02 418.90,160.78" fill="#25472d"/>
<text transform="translate(427.3,165.20000000000002) scale(1,1.1)" font-size="7.8" text-anchor="start" fill="#111" stroke="#111" stroke-width="0.1">Isotype control</text>
<polygon points="417.10,174.92 420.70,174.92 418.90,171.68" fill="#93c6e8"/>
<text transform="translate(427.3,176.10000000000002) scale(1,1.1)" font-size="7.8" text-anchor="start" fill="#111" stroke="#111" stroke-width="0.1">Bexmarilimab 0.1 µg/mL</text>
<polygon points="417.10,185.82 420.70,185.82 418.90,182.58" fill="#4f88c0"/>
<text transform="translate(427.3,187.00000000000003) scale(1,1.1)" font-size="7.8" text-anchor="start" fill="#111" stroke="#111" stroke-width="0.1">Bexmarilimab 1 µg/mL</text>
<polygon points="417.10,196.72 420.70,196.72 418.90,193.48" fill="#38449a"/>
<text transform="translate(427.3,197.90000000000003) scale(1,1.1)" font-size="7.8" text-anchor="start" fill="#111" stroke="#111" stroke-width="0.1">Bexmarilimab 10 µg/mL</text>
<polygon points="417.10,207.62 420.70,207.62 418.90,204.38" fill="#1a205c"/>
<text transform="translate(427.3,208.8) scale(1,1.1)" font-size="7.8" text-anchor="start" fill="#111" stroke="#111" stroke-width="0.1">Bexmarilimab 50 µg/mL</text>
<line x1="51.0" y1="292.3" x2="51.0" y2="372.6" stroke="#555" stroke-width="1.0"/>
<line x1="49.0" y1="372.3" x2="51.0" y2="372.3" stroke="#555" stroke-width="1.0"/>
<text transform="translate(47.0,374.90000000000003) scale(1,1.1)" font-size="6.4" text-anchor="end" fill="#111" stroke="#111" stroke-width="0.1">0</text>
<line x1="49.0" y1="345.75" x2="51.0" y2="345.75" stroke="#555" stroke-width="1.0"/>
<text transform="translate(47.0,348.35) scale(1,1.1)" font-size="6.4" text-anchor="end" fill="#111" stroke="#111" stroke-width="0.1">50</text>
<line x1="49.0" y1="319.2" x2="51.0" y2="319.2" stroke="#555" stroke-width="1.0"/>
<text transform="translate(47.0,321.8) scale(1,1.1)" font-size="6.4" text-anchor="end" fill="#111" stroke="#111" stroke-width="0.1">100</text>
<line x1="49.0" y1="292.65" x2="51.0" y2="292.65" stroke="#555" stroke-width="1.0"/>
<text transform="translate(47.0,295.25) scale(1,1.1)" font-size="6.4" text-anchor="end" fill="#111" stroke="#111" stroke-width="0.1">150</text>
<line x1="51.0" y1="319.2" x2="169" y2="319.2" stroke="#555" stroke-width="0.7" stroke-dasharray="1,1.6"/>
<rect x="55.0" y="319.2" width="7.700000000000003" height="53.10000000000002" fill="#6b6b6b"/>
<line x1="58.85" y1="311.6" x2="58.85" y2="327.0" stroke="#111" stroke-width="0.7"/>
<line x1="57.65" y1="311.6" x2="60.050000000000004" y2="311.6" stroke="#111" stroke-width="0.7"/>
<line x1="57.65" y1="327.0" x2="60.050000000000004" y2="327.0" stroke="#111" stroke-width="0.7"/>
<circle cx="58.8" cy="311.3" r="1.35" fill="none" stroke="#000" stroke-width="0.85"/>
<circle cx="57.6" cy="325.5" r="1.35" fill="none" stroke="#000" stroke-width="0.85"/>
<circle cx="60.0" cy="324.5" r="1.35" fill="none" stroke="#000" stroke-width="0.85"/>
<rect x="66.3" y="328.6" width="7.700000000000003" height="43.69999999999999" fill="#1859a6"/>
<line x1="70.15" y1="326.0" x2="70.15" y2="331.5" stroke="#111" stroke-width="0.7"/>
<line x1="68.95" y1="326.0" x2="71.35000000000001" y2="326.0" stroke="#111" stroke-width="0.7"/>
<line x1="68.95" y1="331.5" x2="71.35000000000001" y2="331.5" stroke="#111" stroke-width="0.7"/>
<circle cx="67.6" cy="326.3" r="1.35" fill="none" stroke="#000" stroke-width="0.85"/>
<circle cx="71.6" cy="329.0" r="1.35" fill="none" stroke="#000" stroke-width="0.85"/>
<circle cx="69.4" cy="332.3" r="1.35" fill="none" stroke="#000" stroke-width="0.85"/>
<rect x="85.4" y="330.4" width="7.699999999999989" height="41.900000000000034" fill="#6b6b6b"/>
<line x1="89.25" y1="323.3" x2="89.25" y2="337.5" stroke="#111" stroke-width="0.7"/>
<line x1="88.05" y1="323.3" x2="90.45" y2="323.3" stroke="#111" stroke-width="0.7"/>
<line x1="88.05" y1="337.5" x2="90.45" y2="337.5" stroke="#111" stroke-width="0.7"/>
<circle cx="89.2" cy="323.3" r="1.35" fill="none" stroke="#000" stroke-width="0.85"/>
<circle cx="88.0" cy="333.5" r="1.35" fill="none" stroke="#000" stroke-width="0.85"/>
<circle cx="90.4" cy="335.5" r="1.35" fill="none" stroke="#000" stroke-width="0.85"/>
<rect x="96.9" y="338.2" width="7.699999999999989" height="34.10000000000002" fill="#1859a6"/>
<line x1="100.75" y1="336.0" x2="100.75" y2="341.0" stroke="#111" stroke-width="0.7"/>
<line x1="99.55" y1="336.0" x2="101.95" y2="336.0" stroke="#111" stroke-width="0.7"/>
<line x1="99.55" y1="341.0" x2="101.95" y2="341.0" stroke="#111" stroke-width="0.7"/>
<circle cx="98.3" cy="336.0" r="1.35" fill="none" stroke="#000" stroke-width="0.85"/>
<circle cx="102.3" cy="337.5" r="1.35" fill="none" stroke="#000" stroke-width="0.85"/>
<circle cx="100.3" cy="341.0" r="1.35" fill="none" stroke="#000" stroke-width="0.85"/>
<rect x="116.1" y="332.9" width="7.700000000000003" height="39.400000000000034" fill="#6b6b6b"/>
<line x1="119.94999999999999" y1="330.0" x2="119.94999999999999" y2="336.0" stroke="#111" stroke-width="0.7"/>
<line x1="118.74999999999999" y1="330.0" x2="121.14999999999999" y2="330.0" stroke="#111" stroke-width="0.7"/>
<line x1="118.74999999999999" y1="336.0" x2="121.14999999999999" y2="336.0" stroke="#111" stroke-width="0.7"/>
<circle cx="118.1" cy="333.3" r="1.35" fill="none" stroke="#000" stroke-width="0.85"/>
<circle cx="121.7" cy="333.3" r="1.35" fill="none" stroke="#000" stroke-width="0.85"/>
<circle cx="120.0" cy="328.6" r="1.35" fill="none" stroke="#000" stroke-width="0.85"/>
<rect x="127.7" y="343.6" width="7.700000000000003" height="28.69999999999999" fill="#1859a6"/>
<line x1="131.55" y1="335.0" x2="131.55" y2="352.0" stroke="#111" stroke-width="0.7"/>
<line x1="130.35000000000002" y1="335.0" x2="132.75" y2="335.0" stroke="#111" stroke-width="0.7"/>
<line x1="130.35000000000002" y1="352.0" x2="132.75" y2="352.0" stroke="#111" stroke-width="0.7"/>
<circle cx="131.5" cy="335.0" r="1.35" fill="none" stroke="#000" stroke-width="0.85"/>
<circle cx="131.0" cy="347.5" r="1.35" fill="none" stroke="#000" stroke-width="0.85"/>
<circle cx="132.0" cy="350.5" r="1.35" fill="none" stroke="#000" stroke-width="0.85"/>
<rect x="147.0" y="332.9" width="7.699999999999989" height="39.400000000000034" fill="#6b6b6b"/>
<line x1="150.85" y1="331.5" x2="150.85" y2="334.5" stroke="#111" stroke-width="0.7"/>
<line x1="149.65" y1="331.5" x2="152.04999999999998" y2="331.5" stroke="#111" stroke-width="0.7"/>
<line x1="149.65" y1="334.5" x2="152.04999999999998" y2="334.5" stroke="#111" stroke-width="0.7"/>
<circle cx="148.6" cy="333.0" r="1.35" fill="none" stroke="#000" stroke-width="0.85"/>
<circle cx="151.0" cy="331.0" r="1.35" fill="none" stroke="#000" stroke-width="0.85"/>
<circle cx="153.5" cy="333.0" r="1.35" fill="none" stroke="#000" stroke-width="0.85"/>
<rect x="158.6" y="346.2" width="7.700000000000017" height="26.100000000000023" fill="#1859a6"/>
<line x1="162.45" y1="341.0" x2="162.45" y2="351.0" stroke="#111" stroke-width="0.7"/>
<line x1="161.25" y1="341.0" x2="163.64999999999998" y2="341.0" stroke="#111" stroke-width="0.7"/>
<line x1="161.25" y1="351.0" x2="163.64999999999998" y2="351.0" stroke="#111" stroke-width="0.7"/>
<circle cx="160.4" cy="341.4" r="1.35" fill="none" stroke="#000" stroke-width="0.85"/>
<circle cx="164.4" cy="342.4" r="1.35" fill="none" stroke="#000" stroke-width="0.85"/>
<circle cx="162.5" cy="344.8" r="1.35" fill="none" stroke="#000" stroke-width="0.85"/>
<line x1="51.0" y1="372.3" x2="170.0" y2="372.3" stroke="#555" stroke-width="1.0"/>
<line x1="64.8" y1="372.3" x2="64.8" y2="374" stroke="#555" stroke-width="1.0"/>
<text transform="translate(64.8,383.1) scale(1,1.1)" font-size="6.6" text-anchor="middle" fill="#111" stroke="#111" stroke-width="0.1">0</text>
<line x1="95.3" y1="372.3" x2="95.3" y2="374" stroke="#555" stroke-width="1.0"/>
<text transform="translate(95.3,383.1) scale(1,1.1)" font-size="6.6" text-anchor="middle" fill="#111" stroke="#111" stroke-width="0.1">1.33</text>
<line x1="125.7" y1="372.3" x2="125.7" y2="374" stroke="#555" stroke-width="1.0"/>
<text transform="translate(125.7,383.1) scale(1,1.1)" font-size="6.6" text-anchor="middle" fill="#111" stroke="#111" stroke-width="0.1">13.3</text>
<line x1="156.7" y1="372.3" x2="156.7" y2="374" stroke="#555" stroke-width="1.0"/>
<text transform="translate(156.7,383.1) scale(1,1.1)" font-size="6.6" text-anchor="middle" fill="#111" stroke="#111" stroke-width="0.1">133</text>
<text transform="translate(112.8,394.4) scale(1,1.1)" font-size="6.9" text-anchor="middle" fill="#111" stroke="#111" stroke-width="0.1">Bexmarilimab (µg/mL)</text>
<text transform="translate(83.1,283.5) scale(1,1.1)" font-size="6.8" text-anchor="start" fill="#111" stroke="#111" stroke-width="0.1">CD14<tspan font-size="5.5" font-weight="bold" dy="-2.0">+</tspan><tspan dy="2.0"> monocytes</tspan></text>
<text transform="translate(20.0,333.0) scale(1,1.1) rotate(-90)" font-size="6.45" text-anchor="middle" fill="#111" stroke="#111" stroke-width="0.1">Change in MFI</text>
<text transform="translate(29.4,332.6) scale(1,1.1) rotate(-90)" font-size="6.36" text-anchor="middle" fill="#111" stroke="#111" stroke-width="0.1">(%, mean ± SD)</text>
<rect x="177.3" y="296" width="10" height="7.5" fill="#6b6b6b"/>
<rect x="177.3" y="307.3" width="10" height="7.3" fill="#1859a6"/>
<text transform="translate(192.5,303.6) scale(1,1.1)" font-size="7.8" text-anchor="start" fill="#111" stroke="#111" stroke-width="0.1">Cells binding 9–11</text>
<text transform="translate(192.5,315.0) scale(1,1.1)" font-size="7.8" text-anchor="start" fill="#111" stroke="#111" stroke-width="0.1">Cells binding</text>
<text transform="translate(192.5,324.3) scale(1,1.1)" font-size="7.8" text-anchor="start" fill="#111" stroke="#111" stroke-width="0.1">bexmarilimab</text>
<line x1="315.5" y1="293.2" x2="315.5" y2="374.6" stroke="#555" stroke-width="1.0"/>
<line x1="313.5" y1="374.2" x2="315.5" y2="374.2" stroke="#555" stroke-width="1.0"/>
<text transform="translate(310.8,376.0) scale(1,1.1)" font-size="6.4" text-anchor="end" fill="#111" stroke="#111" stroke-width="0.1">0</text>
<line x1="313.5" y1="347.3" x2="315.5" y2="347.3" stroke="#555" stroke-width="1.0"/>
<text transform="translate(310.8,349.90000000000003) scale(1,1.1)" font-size="6.4" text-anchor="end" fill="#111" stroke="#111" stroke-width="0.1">50</text>
<line x1="313.5" y1="320.4" x2="315.5" y2="320.4" stroke="#555" stroke-width="1.0"/>
<text transform="translate(310.8,323.0) scale(1,1.1)" font-size="6.4" text-anchor="end" fill="#111" stroke="#111" stroke-width="0.1">100</text>
<line x1="313.5" y1="293.5" x2="315.5" y2="293.5" stroke="#555" stroke-width="1.0"/>
<text transform="translate(310.8,296.1) scale(1,1.1)" font-size="6.4" text-anchor="end" fill="#111" stroke="#111" stroke-width="0.1">150</text>
<line x1="315.5" y1="320.4" x2="400" y2="320.4" stroke="#999" stroke-width="0.7"/>
<rect x="321.9" y="322.6" width="12.6" height="51.599999999999966" fill="#a3a3a3"/>
<line x1="328.2" y1="317.6" x2="328.2" y2="326.0" stroke="#111" stroke-width="0.7"/>
<line x1="327.0" y1="317.6" x2="329.4" y2="317.6" stroke="#111" stroke-width="0.7"/>
<line x1="327.0" y1="326.0" x2="329.4" y2="326.0" stroke="#111" stroke-width="0.7"/>
<circle cx="324.2" cy="322.4" r="1.4" fill="none" stroke="#000" stroke-width="0.85"/>
<circle cx="328.0" cy="316.6" r="1.4" fill="none" stroke="#000" stroke-width="0.85"/>
<circle cx="331.6" cy="322.4" r="1.4" fill="none" stroke="#000" stroke-width="0.85"/>
<circle cx="328.0" cy="322.6" r="1.4" fill="none" stroke="#000" stroke-width="0.85"/>
<rect x="341.5" y="331.5" width="12.6" height="42.69999999999999" fill="#80c1ea"/>
<line x1="347.8" y1="329.0" x2="347.8" y2="333.5" stroke="#111" stroke-width="0.7"/>
<line x1="346.6" y1="329.0" x2="349.0" y2="329.0" stroke="#111" stroke-width="0.7"/>
<line x1="346.6" y1="333.5" x2="349.0" y2="333.5" stroke="#111" stroke-width="0.7"/>
<circle cx="343.6" cy="330.8" r="1.4" fill="none" stroke="#000" stroke-width="0.85"/>
<circle cx="347.6" cy="329.6" r="1.4" fill="none" stroke="#000" stroke-width="0.85"/>
<circle cx="351.6" cy="330.8" r="1.4" fill="none" stroke="#000" stroke-width="0.85"/>
<rect x="361.4" y="332.5" width="12.6" height="41.69999999999999" fill="#2c88d0"/>
<line x1="367.7" y1="328.8" x2="367.7" y2="335.5" stroke="#111" stroke-width="0.7"/>
<line x1="366.5" y1="328.8" x2="368.9" y2="328.8" stroke="#111" stroke-width="0.7"/>
<line x1="366.5" y1="335.5" x2="368.9" y2="335.5" stroke="#111" stroke-width="0.7"/>
<circle cx="363.6" cy="334.4" r="1.4" fill="none" stroke="#000" stroke-width="0.85"/>
<circle cx="367.6" cy="333.2" r="1.4" fill="none" stroke="#000" stroke-width="0.85"/>
<circle cx="371.6" cy="333.4" r="1.4" fill="none" stroke="#000" stroke-width="0.85"/>
<rect x="380.59999999999997" y="331.0" width="12.6" height="43.19999999999999" fill="#2a47a2"/>
<line x1="386.9" y1="329.5" x2="386.9" y2="332.5" stroke="#111" stroke-width="0.7"/>
<line x1="385.7" y1="329.5" x2="388.09999999999997" y2="329.5" stroke="#111" stroke-width="0.7"/>
<line x1="385.7" y1="332.5" x2="388.09999999999997" y2="332.5" stroke="#111" stroke-width="0.7"/>
<circle cx="383.2" cy="330.3" r="1.4" fill="none" stroke="#000" stroke-width="0.85"/>
<circle cx="387.2" cy="331.4" r="1.4" fill="none" stroke="#000" stroke-width="0.85"/>
<circle cx="391.0" cy="330.3" r="1.4" fill="none" stroke="#000" stroke-width="0.85"/>
<line x1="315.5" y1="374.2" x2="400" y2="374.2" stroke="#555" stroke-width="1.0"/>
<line x1="328.2" y1="374.2" x2="328.2" y2="375.9" stroke="#555" stroke-width="1.0"/>
<text transform="translate(328.2,383.8) scale(1,1.1)" font-size="6.6" text-anchor="middle" fill="#111" stroke="#111" stroke-width="0.1">0</text>
<line x1="348" y1="374.2" x2="348" y2="375.9" stroke="#555" stroke-width="1.0"/>
<text transform="translate(348,383.8) scale(1,1.1)" font-size="6.6" text-anchor="middle" fill="#111" stroke="#111" stroke-width="0.1">1.33</text>
<line x1="368.4" y1="374.2" x2="368.4" y2="375.9" stroke="#555" stroke-width="1.0"/>
<text transform="translate(368.4,383.8) scale(1,1.1)" font-size="6.6" text-anchor="middle" fill="#111" stroke="#111" stroke-width="0.1">13.3</text>
<line x1="387.8" y1="374.2" x2="387.8" y2="375.9" stroke="#555" stroke-width="1.0"/>
<text transform="translate(387.8,383.8) scale(1,1.1)" font-size="6.6" text-anchor="middle" fill="#111" stroke="#111" stroke-width="0.1">133</text>
<text transform="translate(361.7,394.2) scale(1,1.1)" font-size="6.9" text-anchor="middle" fill="#111" stroke="#111" stroke-width="0.1">Bexmarilimab (µg/mL)</text>
<text transform="translate(325.5,283.1) scale(1,1.1)" font-size="6.9" text-anchor="start" fill="#111" stroke="#111" stroke-width="0.1">AcLDL internalization</text>
<text transform="translate(325.6,290.8) scale(1,1.1)" font-size="6.95" text-anchor="start" fill="#111" stroke="#111" stroke-width="0.1">by CD14<tspan font-size="5.6" font-weight="bold" dy="-2.0">+</tspan><tspan dy="2.0"> monocytes</tspan></text>
<text transform="translate(284.0,332.0) scale(1,1.1) rotate(-90)" font-size="6.45" text-anchor="middle" fill="#111" stroke="#111" stroke-width="0.1">Change in MFI</text>
<text transform="translate(292.2,332.5) scale(1,1.1) rotate(-90)" font-size="6.36" text-anchor="middle" fill="#111" stroke="#111" stroke-width="0.1">(%, mean ± SD)</text>
</svg></body></html>
